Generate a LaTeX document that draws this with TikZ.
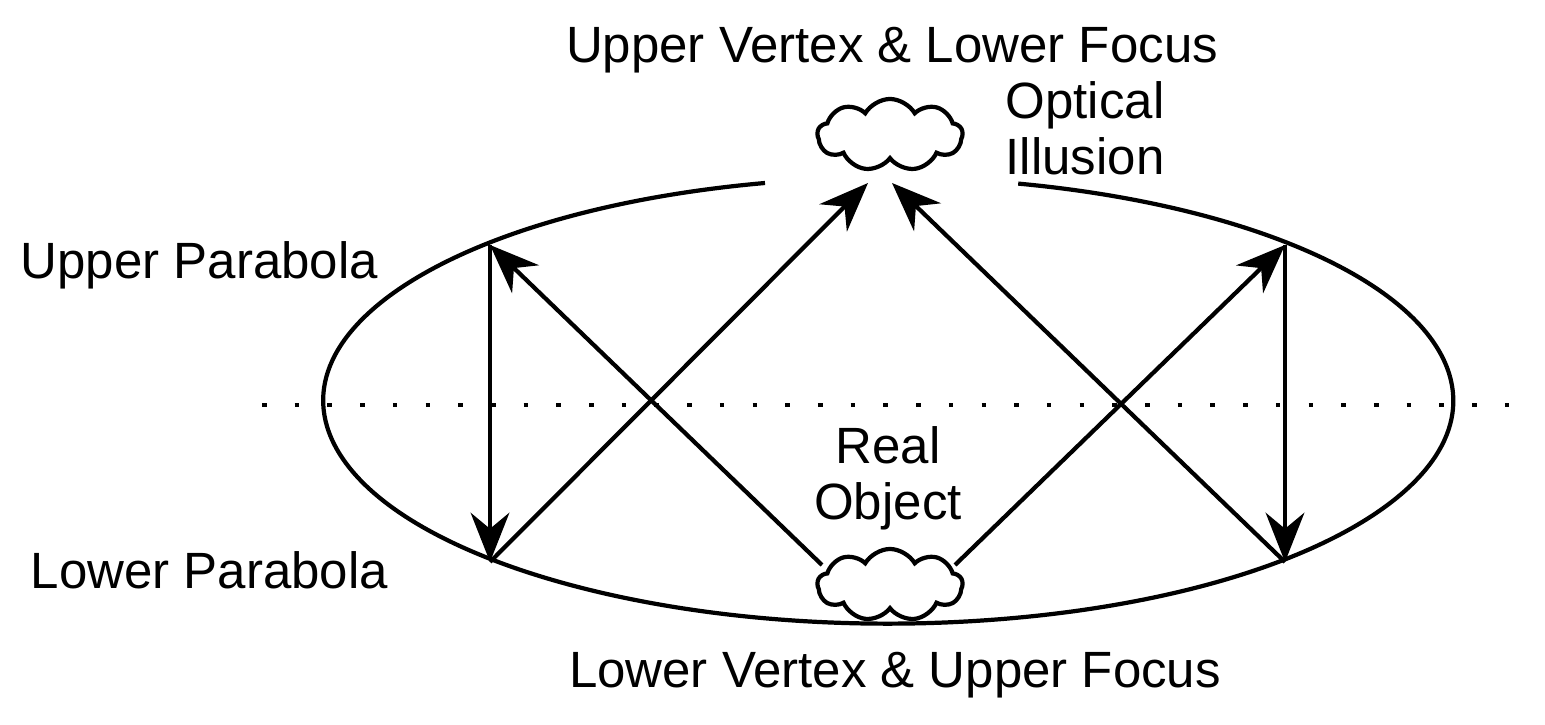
\documentclass[tikz,border=0pt]{standalone}
\usepackage{fontspec}
\setmainfont{Liberation Sans}
\usetikzlibrary{shapes.symbols,arrows.meta}
\begin{document}
\begin{tikzpicture}[x=0.01cm,y=-0.01cm,
  ln/.style={line width=1.2pt},
  ar/.style={ln,-{Stealth[length=14pt,width=11pt]}},
  cl/.style={cloud,cloud puffs=9,cloud puff arc=120,aspect=2,draw,ln,minimum width=1.45cm,minimum height=0.72cm,inner sep=0pt},
  lb/.style={font=\fontsize{14.5}{16}\selectfont,inner sep=0pt}]
\useasboundingbox (0,0) rectangle (1545,725);
\draw[ln,dotted,line width=1.3pt,dash pattern=on 1.3pt off 8pt] (262,405) -- (1510,405);
\draw[ln] (765,183) arc[start angle=-102.6,end angle=-436.7,x radius=565,y radius=223];
\node[cl] (up) at (890,135) {};
\node[cl] (lo) at (890,585) {};
\coordinate (LT) at (490,245);
\coordinate (LB) at (490,562);
\coordinate (RT) at (1285,245);
\coordinate (RB) at (1285,562);
\coordinate (ul) at (868,183);
\coordinate (ur) at (892,183);
\coordinate (ll) at (822,565);
\coordinate (lr) at (955,565);
\draw[ar] (ll) -- (LT);
\draw[ar] (LT) -- (LB);
\draw[ar] (LB) -- (ul);
\draw[ar] (lr) -- (RT);
\draw[ar] (RT) -- (RB);
\draw[ar] (RB) -- (ur);
\node[lb] (t1) at (892,50) {Upper Vertex \& Lower Focus};
\node[lb,align=left,anchor=west] (t2) at (1005,128) {Optical\\[0pt]Illusion};
\node[lb,anchor=west] (t3) at (20,265) {Upper Parabola};
\node[lb,anchor=west] (t4) at (30,570) {Lower Parabola};
\node[lb,align=center] (t5) at (888,478) {Real\\[0pt]Object};
\node[lb] (t6) at (895,675) {Lower Vertex \& Upper Focus};
\end{tikzpicture}
\end{document}
